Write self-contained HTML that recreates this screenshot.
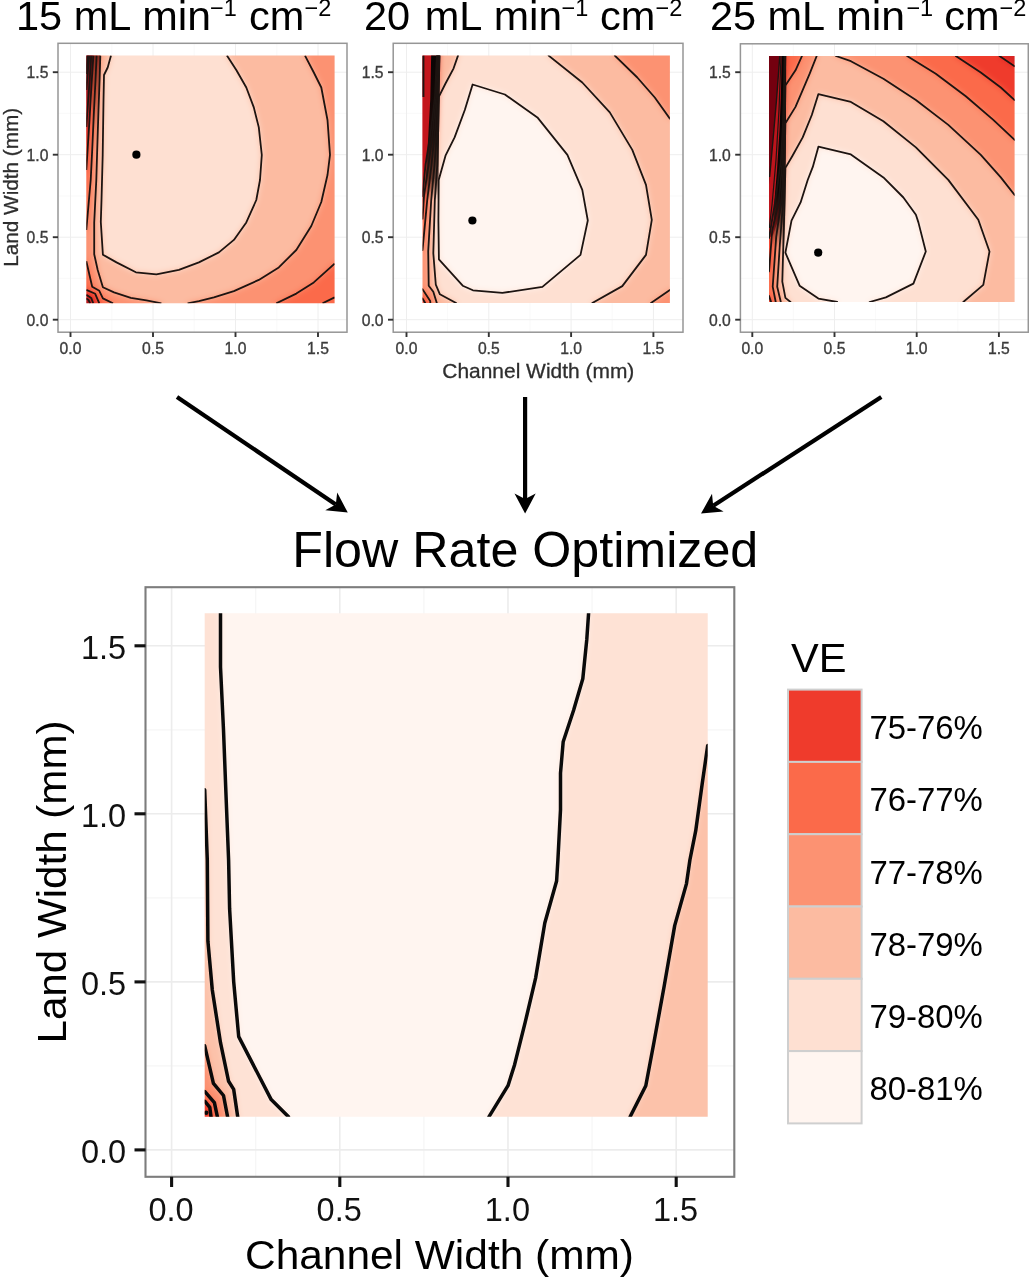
<!DOCTYPE html>
<html lang="en"><head><meta charset="utf-8"><title>Flow Rate Optimized</title>
<style>
html,body{margin:0;padding:0;background:#fff;}
body{width:1029px;height:1280px;overflow:hidden;}
svg{display:block;}
svg text{font-family:"Liberation Sans",Arial,Helvetica,sans-serif;}
</style></head><body>
<svg width="1029" height="1280" viewBox="0 0 1029 1280">
<rect width="1029" height="1280" fill="#ffffff"/>
<defs><filter id="blur" x="-10%" y="-10%" width="120%" height="120%" color-interpolation-filters="sRGB"><feGaussianBlur stdDeviation="3"/></filter></defs>
<rect x="58.0" y="43.3" width="289.0" height="288.9" fill="#fff"/>
<line x1="111.8" x2="111.8" y1="43.3" y2="332.2" stroke="#f7f7f7" stroke-width="0.8"/>
<line x1="58.0" x2="347.0" y1="278.4" y2="278.4" stroke="#f7f7f7" stroke-width="0.8"/>
<line x1="194.2" x2="194.2" y1="43.3" y2="332.2" stroke="#f7f7f7" stroke-width="0.8"/>
<line x1="58.0" x2="347.0" y1="195.9" y2="195.9" stroke="#f7f7f7" stroke-width="0.8"/>
<line x1="276.8" x2="276.8" y1="43.3" y2="332.2" stroke="#f7f7f7" stroke-width="0.8"/>
<line x1="58.0" x2="347.0" y1="113.4" y2="113.4" stroke="#f7f7f7" stroke-width="0.8"/>
<line x1="70.5" x2="70.5" y1="43.3" y2="332.2" stroke="#eeeeee" stroke-width="1"/>
<line x1="58.0" x2="347.0" y1="319.7" y2="319.7" stroke="#eeeeee" stroke-width="1"/>
<line x1="153.0" x2="153.0" y1="43.3" y2="332.2" stroke="#eeeeee" stroke-width="1"/>
<line x1="58.0" x2="347.0" y1="237.2" y2="237.2" stroke="#eeeeee" stroke-width="1"/>
<line x1="235.5" x2="235.5" y1="43.3" y2="332.2" stroke="#eeeeee" stroke-width="1"/>
<line x1="58.0" x2="347.0" y1="154.7" y2="154.7" stroke="#eeeeee" stroke-width="1"/>
<line x1="318.0" x2="318.0" y1="43.3" y2="332.2" stroke="#eeeeee" stroke-width="1"/>
<line x1="58.0" x2="347.0" y1="72.2" y2="72.2" stroke="#eeeeee" stroke-width="1"/>
<clipPath id="c1"><rect x="86.3" y="55.6" width="248.3" height="247.7"/></clipPath>
<g clip-path="url(#c1)"><g filter="url(#blur)">
<rect x="66.3" y="35.6" width="288.3" height="287.7" fill="#5a000c"/>
<polygon points="86.3,74.0 66.3,74.0 66.3,35.6 87.6,35.6 87.6,55.6 87.6,35.6 354.6,35.6 354.6,323.3 86.3,323.3 66.3,323.3 66.3,74.0" fill="#a50f15" />
<polygon points="86.3,90.0 87.8,72.0 89.2,55.6 89.2,35.6 354.6,35.6 354.6,323.3 90.2,323.3 90.2,303.3 88.5,300.0 86.3,298.4 66.3,298.4 66.3,90.0" fill="#cb181d" />
<polygon points="86.3,127.0 88.2,100.0 90.0,75.0 91.2,55.6 91.2,35.6 354.6,35.6 354.6,323.3 93.2,323.3 93.2,303.3 91.2,297.9 86.3,294.8 66.3,294.8 66.3,127.0" fill="#ef3b2c" />
<polygon points="86.3,170.0 87.6,150.0 89.5,120.0 91.5,85.0 93.4,55.6 93.4,35.6 354.6,35.6 354.6,297.4 334.6,297.4 354.6,297.4 354.6,323.3 322.5,323.3 322.5,303.3 322.5,323.3 99.3,323.3 99.3,303.3 95.2,293.8 86.3,289.8 66.3,289.8 66.3,170.0" fill="#fb6a4a" />
<polygon points="86.3,230.0 88.5,205.0 90.7,180.0 92.2,150.0 94.0,110.0 95.5,80.0 96.6,55.6 96.6,35.6 354.6,35.6 354.6,263.6 334.6,263.6 313.8,282.4 296.3,293.6 276.3,303.3 276.3,323.3 113.0,323.3 113.0,303.3 102.9,298.4 99.3,290.8 92.2,286.7 86.3,261.3 66.3,261.3 66.3,230.0" fill="#fc9272" />
<polygon points="305.0,55.6 313.8,72.5 321.3,87.5 327.5,120.0 330.0,154.9 327.5,175.0 321.3,202.0 311.3,226.0 296.3,250.0 278.8,267.4 258.8,279.9 233.9,291.1 213.9,297.4 198.9,301.1 187.6,303.3 187.6,323.3 161.4,323.3 161.4,303.3 146.4,300.4 130.8,297.9 114.0,292.4 102.9,287.2 97.7,270.0 94.2,254.2 94.2,222.7 96.3,180.0 97.2,150.0 98.5,110.0 99.6,80.0 100.3,55.6 100.3,35.6 305.0,35.6" fill="#fcbba1" />
<polygon points="111.0,55.6 107.7,67.5 104.0,75.0 103.5,100.0 102.7,155.0 101.5,200.0 100.8,222.0 102.9,254.7 116.5,262.4 135.9,272.3 156.4,274.3 178.9,269.9 198.9,262.4 218.9,252.4 233.9,239.9 246.3,222.4 256.3,200.0 260.0,180.0 261.8,155.0 258.8,127.4 253.8,107.4 246.3,87.5 236.3,70.0 226.9,55.6 226.9,35.6 111.0,35.6" fill="#fee0d2" />
</g>
<linearGradient id="g1k" x1="0" y1="55" x2="0" y2="175" gradientUnits="userSpaceOnUse"><stop offset="0" stop-color="#5c0a12"/><stop offset="0.3" stop-color="#96121a"/><stop offset="0.6" stop-color="#d22a26"/><stop offset="0.85" stop-color="#ee5236"/><stop offset="1" stop-color="#f5653f" stop-opacity="0"/></linearGradient>
<polygon points="86.3,53.6 93.6,53.6 93.4,55.6 91.5,85.0 89.5,120.0 87.6,150.0 86.3,172.0" fill="url(#g1k)" />
<linearGradient id="g1b" x1="0" y1="55" x2="0" y2="150" gradientUnits="userSpaceOnUse"><stop offset="0" stop-color="#7a2018" stop-opacity="0.9"/><stop offset="0.5" stop-color="#b04028" stop-opacity="0.6"/><stop offset="1" stop-color="#e07050" stop-opacity="0"/></linearGradient>
<polygon points="93.4,53.6 100.6,53.6 99.6,80.0 98.5,110.0 97.6,150.0 92.2,150.0 91.5,85.0" fill="url(#g1b)" />
</g>
<g clip-path="url(#c1)">
<polyline points="86.3,74.0 87.6,55.6" fill="none" stroke="#1d1411" stroke-width="1.8" stroke-linejoin="round" stroke-linecap="butt" />
<polyline points="86.3,90.0 87.8,72.0 89.2,55.6" fill="none" stroke="#1d1411" stroke-width="1.8" stroke-linejoin="round" stroke-linecap="butt" />
<polyline points="86.3,298.4 88.5,300.0 90.2,303.3" fill="none" stroke="#1d1411" stroke-width="1.8" stroke-linejoin="round" stroke-linecap="butt" />
<polyline points="86.3,127.0 88.2,100.0 90.0,75.0 91.2,55.6" fill="none" stroke="#1d1411" stroke-width="1.8" stroke-linejoin="round" stroke-linecap="butt" />
<polyline points="86.3,294.8 91.2,297.9 93.2,303.3" fill="none" stroke="#1d1411" stroke-width="1.8" stroke-linejoin="round" stroke-linecap="butt" />
<polyline points="86.3,170.0 87.6,150.0 89.5,120.0 91.5,85.0 93.4,55.6" fill="none" stroke="#1d1411" stroke-width="1.8" stroke-linejoin="round" stroke-linecap="butt" />
<polyline points="86.3,289.8 95.2,293.8 99.3,303.3" fill="none" stroke="#1d1411" stroke-width="1.8" stroke-linejoin="round" stroke-linecap="butt" />
<polyline points="322.5,303.3 334.6,297.4" fill="none" stroke="#1d1411" stroke-width="1.8" stroke-linejoin="round" stroke-linecap="butt" />
<polyline points="86.3,230.0 88.5,205.0 90.7,180.0 92.2,150.0 94.0,110.0 95.5,80.0 96.6,55.6" fill="none" stroke="#1d1411" stroke-width="1.8" stroke-linejoin="round" stroke-linecap="butt" />
<polyline points="86.3,261.3 92.2,286.7 99.3,290.8 102.9,298.4 113.0,303.3" fill="none" stroke="#1d1411" stroke-width="1.8" stroke-linejoin="round" stroke-linecap="butt" />
<polyline points="276.3,303.3 296.3,293.6 313.8,282.4 334.6,263.6" fill="none" stroke="#1d1411" stroke-width="1.8" stroke-linejoin="round" stroke-linecap="butt" />
<polyline points="305.0,55.6 313.8,72.5 321.3,87.5 327.5,120.0 330.0,154.9 327.5,175.0 321.3,202.0 311.3,226.0 296.3,250.0 278.8,267.4 258.8,279.9 233.9,291.1 213.9,297.4 198.9,301.1 187.6,303.3" fill="none" stroke="#1d1411" stroke-width="1.8" stroke-linejoin="round" stroke-linecap="butt" />
<polyline points="161.4,303.3 146.4,300.4 130.8,297.9 114.0,292.4 102.9,287.2 97.7,270.0 94.2,254.2 94.2,222.7 96.3,180.0 97.2,150.0 98.5,110.0 99.6,80.0 100.3,55.6" fill="none" stroke="#1d1411" stroke-width="1.8" stroke-linejoin="round" stroke-linecap="butt" />
<polyline points="111.0,55.6 107.7,67.5 104.0,75.0 103.5,100.0 102.7,155.0 101.5,200.0 100.8,222.0 102.9,254.7 116.5,262.4 135.9,272.3 156.4,274.3 178.9,269.9 198.9,262.4 218.9,252.4 233.9,239.9 246.3,222.4 256.3,200.0 260.0,180.0 261.8,155.0 258.8,127.4 253.8,107.4 246.3,87.5 236.3,70.0 226.9,55.6" fill="none" stroke="#1d1411" stroke-width="1.8" stroke-linejoin="round" stroke-linecap="butt" />
</g>
<circle cx="136.4" cy="154.7" r="4.1" fill="#000"/>
<rect x="58.0" y="43.3" width="289.0" height="288.9" fill="none" stroke="#969696" stroke-width="1.5"/>
<line x1="70.5" x2="70.5" y1="332.2" y2="337.0" stroke="#333" stroke-width="1.9"/>
<line x1="52.8" x2="58.0" y1="319.7" y2="319.7" stroke="#333" stroke-width="1.9"/>
<text x="70.5" y="354.0" font-size="15.7" fill="#3c3c3c" text-anchor="middle" stroke="#3c3c3c" stroke-width="0.35">0.0</text>
<text x="48.4" y="325.6" font-size="15.7" fill="#3c3c3c" text-anchor="end" stroke="#3c3c3c" stroke-width="0.35">0.0</text>
<line x1="153.0" x2="153.0" y1="332.2" y2="337.0" stroke="#333" stroke-width="1.9"/>
<line x1="52.8" x2="58.0" y1="237.2" y2="237.2" stroke="#333" stroke-width="1.9"/>
<text x="153.0" y="354.0" font-size="15.7" fill="#3c3c3c" text-anchor="middle" stroke="#3c3c3c" stroke-width="0.35">0.5</text>
<text x="48.4" y="243.1" font-size="15.7" fill="#3c3c3c" text-anchor="end" stroke="#3c3c3c" stroke-width="0.35">0.5</text>
<line x1="235.5" x2="235.5" y1="332.2" y2="337.0" stroke="#333" stroke-width="1.9"/>
<line x1="52.8" x2="58.0" y1="154.7" y2="154.7" stroke="#333" stroke-width="1.9"/>
<text x="235.5" y="354.0" font-size="15.7" fill="#3c3c3c" text-anchor="middle" stroke="#3c3c3c" stroke-width="0.35">1.0</text>
<text x="48.4" y="160.6" font-size="15.7" fill="#3c3c3c" text-anchor="end" stroke="#3c3c3c" stroke-width="0.35">1.0</text>
<line x1="318.0" x2="318.0" y1="332.2" y2="337.0" stroke="#333" stroke-width="1.9"/>
<line x1="52.8" x2="58.0" y1="72.2" y2="72.2" stroke="#333" stroke-width="1.9"/>
<text x="318.0" y="354.0" font-size="15.7" fill="#3c3c3c" text-anchor="middle" stroke="#3c3c3c" stroke-width="0.35">1.5</text>
<text x="48.4" y="78.1" font-size="15.7" fill="#3c3c3c" text-anchor="end" stroke="#3c3c3c" stroke-width="0.35">1.5</text>
<text transform="translate(17.8,187.3) rotate(-90)" text-anchor="middle" font-size="20.3" fill="#2e2e2e" stroke="#2e2e2e" stroke-width="0.3" textLength="159" lengthAdjust="spacingAndGlyphs">Land Width (mm)</text>
<rect x="393.2" y="43.3" width="289.8" height="288.9" fill="#fff"/>
<line x1="447.6" x2="447.6" y1="43.3" y2="332.2" stroke="#f7f7f7" stroke-width="0.8"/>
<line x1="393.2" x2="683.0" y1="278.4" y2="278.4" stroke="#f7f7f7" stroke-width="0.8"/>
<line x1="530.0" x2="530.0" y1="43.3" y2="332.2" stroke="#f7f7f7" stroke-width="0.8"/>
<line x1="393.2" x2="683.0" y1="195.9" y2="195.9" stroke="#f7f7f7" stroke-width="0.8"/>
<line x1="612.2" x2="612.2" y1="43.3" y2="332.2" stroke="#f7f7f7" stroke-width="0.8"/>
<line x1="393.2" x2="683.0" y1="113.4" y2="113.4" stroke="#f7f7f7" stroke-width="0.8"/>
<line x1="406.5" x2="406.5" y1="43.3" y2="332.2" stroke="#eeeeee" stroke-width="1"/>
<line x1="393.2" x2="683.0" y1="319.7" y2="319.7" stroke="#eeeeee" stroke-width="1"/>
<line x1="488.8" x2="488.8" y1="43.3" y2="332.2" stroke="#eeeeee" stroke-width="1"/>
<line x1="393.2" x2="683.0" y1="237.2" y2="237.2" stroke="#eeeeee" stroke-width="1"/>
<line x1="571.1" x2="571.1" y1="43.3" y2="332.2" stroke="#eeeeee" stroke-width="1"/>
<line x1="393.2" x2="683.0" y1="154.7" y2="154.7" stroke="#eeeeee" stroke-width="1"/>
<line x1="653.4" x2="653.4" y1="43.3" y2="332.2" stroke="#eeeeee" stroke-width="1"/>
<line x1="393.2" x2="683.0" y1="72.2" y2="72.2" stroke="#eeeeee" stroke-width="1"/>
<clipPath id="c2"><rect x="422.5" y="55.6" width="247.4" height="247.4"/></clipPath>
<g clip-path="url(#c2)"><g filter="url(#blur)">
<rect x="402.5" y="35.6" width="287.4" height="287.4" fill="#cb181d"/>
<polygon points="436.9,35.6 436.9,55.6 435.0,96.0 431.0,130.0 425.5,165.0 422.5,196.0 402.5,196.0 402.5,323.0 689.9,323.0 689.9,35.6" fill="#ef3b2c" />
<polygon points="437.8,35.6 437.8,55.6 436.2,96.0 433.0,130.0 428.5,165.0 424.1,195.0 422.5,218.6 402.5,218.6 402.5,298.5 422.5,298.5 425.2,303.0 425.2,323.0 689.9,323.0 689.9,35.6" fill="#fb6a4a" />
<polygon points="438.7,35.6 438.7,55.6 437.4,96.0 435.0,130.0 431.5,165.0 427.2,200.3 422.5,250.1 402.5,250.1 402.5,289.2 422.5,289.2 430.2,301.0 431.5,323.0 689.9,323.0 689.9,35.6" fill="#fc9272" />
<polygon points="436.8,323.0 436.8,303.0 433.3,291.8 428.7,285.7 428.2,251.1 431.2,200.3 434.5,165.0 437.0,130.0 438.5,96.0 439.6,55.6 439.6,35.6 614.8,35.6 614.8,55.6 637.3,77.5 654.8,97.5 669.9,118.7 689.9,118.7 689.9,289.9 669.9,289.9 651.0,303.0 651.0,323.0" fill="#fcbba1" />
<polygon points="458.0,35.6 458.0,55.6 453.6,68.3 445.5,83.5 438.9,96.7 438.2,130.0 437.3,165.0 434.8,200.3 433.3,253.2 435.8,284.7 439.9,294.3 456.1,303.0 456.1,323.0 592.3,323.0 592.3,303.0 622.3,286.1 646.0,254.9 651.8,219.9 646.0,184.9 632.3,149.9 609.8,112.4 582.3,82.5 548.6,55.6 548.6,35.6" fill="#fee0d2" />
<polygon points="438.7,180.0 445.5,155.7 454.6,137.4 464.8,110.0 472.6,84.5 504.9,94.5 537.4,117.4 567.4,154.9 582.3,189.9 587.8,220.5 580.5,254.9 542.4,286.9 502.4,292.9 472.9,290.3 462.7,285.7 438.9,259.3 438.4,220.7" fill="#fff5f0" />
</g>
<linearGradient id="g2k" x1="0" y1="55" x2="0" y2="200" gradientUnits="userSpaceOnUse"><stop offset="0" stop-color="#0a0505" stop-opacity="1"/><stop offset="0.55" stop-color="#120806" stop-opacity="0.95"/><stop offset="0.85" stop-color="#2a130c" stop-opacity="0.7"/><stop offset="1" stop-color="#3a1a10" stop-opacity="0"/></linearGradient>
<polygon points="422.5,55.6 431.5,55.6 430.5,100.0 427.5,150.0 424.5,185.0 422.5,205.0" fill="#c4161c" />
<polygon points="431.2,53.6 440.2,53.6 439.5,96.0 438.8,150.0 438.6,200.0 424.0,200.0 427.5,150.0 430.2,100.0" fill="url(#g2k)" />
</g>
<g clip-path="url(#c2)">
<polyline points="423.2,55.6 423.2,97.0" fill="none" stroke="#1d1411" stroke-width="2.4" stroke-linejoin="round" stroke-linecap="butt" />
<polyline points="402.5,196.0 422.5,196.0 425.5,165.0 431.0,130.0 435.0,96.0 436.9,55.6 436.9,35.6" fill="none" stroke="#1d1411" stroke-width="1.8" stroke-linejoin="round" stroke-linecap="butt" />
<polyline points="402.5,218.6 422.5,218.6 424.1,195.0 428.5,165.0 433.0,130.0 436.2,96.0 437.8,55.6 437.8,35.6" fill="none" stroke="#1d1411" stroke-width="1.8" stroke-linejoin="round" stroke-linecap="butt" />
<polyline points="402.5,298.5 422.5,298.5 425.2,303.0 425.2,323.0" fill="none" stroke="#1d1411" stroke-width="1.8" stroke-linejoin="round" stroke-linecap="butt" />
<polyline points="402.5,250.1 422.5,250.1 427.2,200.3 431.5,165.0 435.0,130.0 437.4,96.0 438.7,55.6 438.7,35.6" fill="none" stroke="#1d1411" stroke-width="1.8" stroke-linejoin="round" stroke-linecap="butt" />
<polyline points="402.5,289.2 422.5,289.2 430.2,301.0 431.5,323.0" fill="none" stroke="#1d1411" stroke-width="1.8" stroke-linejoin="round" stroke-linecap="butt" />
<polyline points="436.8,323.0 436.8,303.0 433.3,291.8 428.7,285.7 428.2,251.1 431.2,200.3 434.5,165.0 437.0,130.0 438.5,96.0 439.6,55.6 439.6,35.6" fill="none" stroke="#1d1411" stroke-width="1.8" stroke-linejoin="round" stroke-linecap="butt" />
<polyline points="614.8,35.6 614.8,55.6 637.3,77.5 654.8,97.5 669.9,118.7 689.9,118.7" fill="none" stroke="#1d1411" stroke-width="1.8" stroke-linejoin="round" stroke-linecap="butt" />
<polyline points="689.9,289.9 669.9,289.9 651.0,303.0 651.0,323.0" fill="none" stroke="#1d1411" stroke-width="1.8" stroke-linejoin="round" stroke-linecap="butt" />
<polyline points="458.0,35.6 458.0,55.6 453.6,68.3 445.5,83.5 438.9,96.7 438.2,130.0 437.3,165.0 434.8,200.3 433.3,253.2 435.8,284.7 439.9,294.3 456.1,303.0 456.1,323.0 592.3,323.0 592.3,303.0 622.3,286.1 646.0,254.9 651.8,219.9 646.0,184.9 632.3,149.9 609.8,112.4 582.3,82.5 548.6,55.6 548.6,35.6" fill="none" stroke="#1d1411" stroke-width="1.8" stroke-linejoin="round" stroke-linecap="butt" />
<polyline points="438.7,180.0 445.5,155.7 454.6,137.4 464.8,110.0 472.6,84.5 504.9,94.5 537.4,117.4 567.4,154.9 582.3,189.9 587.8,220.5 580.5,254.9 542.4,286.9 502.4,292.9 472.9,290.3 462.7,285.7 438.9,259.3 438.4,220.7 438.7,180.0" fill="none" stroke="#1d1411" stroke-width="1.8" stroke-linejoin="round" stroke-linecap="butt" />
</g>
<circle cx="472.4" cy="220.5" r="4.1" fill="#000"/>
<rect x="393.2" y="43.3" width="289.8" height="288.9" fill="none" stroke="#969696" stroke-width="1.5"/>
<line x1="406.5" x2="406.5" y1="332.2" y2="337.0" stroke="#333" stroke-width="1.9"/>
<line x1="388.0" x2="393.2" y1="319.7" y2="319.7" stroke="#333" stroke-width="1.9"/>
<text x="406.5" y="354.0" font-size="15.7" fill="#3c3c3c" text-anchor="middle" stroke="#3c3c3c" stroke-width="0.35">0.0</text>
<text x="383.6" y="325.6" font-size="15.7" fill="#3c3c3c" text-anchor="end" stroke="#3c3c3c" stroke-width="0.35">0.0</text>
<line x1="488.8" x2="488.8" y1="332.2" y2="337.0" stroke="#333" stroke-width="1.9"/>
<line x1="388.0" x2="393.2" y1="237.2" y2="237.2" stroke="#333" stroke-width="1.9"/>
<text x="488.8" y="354.0" font-size="15.7" fill="#3c3c3c" text-anchor="middle" stroke="#3c3c3c" stroke-width="0.35">0.5</text>
<text x="383.6" y="243.1" font-size="15.7" fill="#3c3c3c" text-anchor="end" stroke="#3c3c3c" stroke-width="0.35">0.5</text>
<line x1="571.1" x2="571.1" y1="332.2" y2="337.0" stroke="#333" stroke-width="1.9"/>
<line x1="388.0" x2="393.2" y1="154.7" y2="154.7" stroke="#333" stroke-width="1.9"/>
<text x="571.1" y="354.0" font-size="15.7" fill="#3c3c3c" text-anchor="middle" stroke="#3c3c3c" stroke-width="0.35">1.0</text>
<text x="383.6" y="160.6" font-size="15.7" fill="#3c3c3c" text-anchor="end" stroke="#3c3c3c" stroke-width="0.35">1.0</text>
<line x1="653.4" x2="653.4" y1="332.2" y2="337.0" stroke="#333" stroke-width="1.9"/>
<line x1="388.0" x2="393.2" y1="72.2" y2="72.2" stroke="#333" stroke-width="1.9"/>
<text x="653.4" y="354.0" font-size="15.7" fill="#3c3c3c" text-anchor="middle" stroke="#3c3c3c" stroke-width="0.35">1.5</text>
<text x="383.6" y="78.1" font-size="15.7" fill="#3c3c3c" text-anchor="end" stroke="#3c3c3c" stroke-width="0.35">1.5</text>
<text x="538.3" y="377.6" font-size="20.6" fill="#2e2e2e" text-anchor="middle" textLength="192.0" lengthAdjust="spacingAndGlyphs" stroke="#2e2e2e" stroke-width="0.3">Channel Width (mm)</text>
<rect x="740.4" y="43.3" width="287.9" height="288.9" fill="#fff"/>
<line x1="793.4" x2="793.4" y1="43.3" y2="332.2" stroke="#f7f7f7" stroke-width="0.8"/>
<line x1="740.4" x2="1028.3" y1="278.4" y2="278.4" stroke="#f7f7f7" stroke-width="0.8"/>
<line x1="875.6" x2="875.6" y1="43.3" y2="332.2" stroke="#f7f7f7" stroke-width="0.8"/>
<line x1="740.4" x2="1028.3" y1="195.9" y2="195.9" stroke="#f7f7f7" stroke-width="0.8"/>
<line x1="957.8" x2="957.8" y1="43.3" y2="332.2" stroke="#f7f7f7" stroke-width="0.8"/>
<line x1="740.4" x2="1028.3" y1="113.4" y2="113.4" stroke="#f7f7f7" stroke-width="0.8"/>
<line x1="752.3" x2="752.3" y1="43.3" y2="332.2" stroke="#eeeeee" stroke-width="1"/>
<line x1="740.4" x2="1028.3" y1="319.7" y2="319.7" stroke="#eeeeee" stroke-width="1"/>
<line x1="834.5" x2="834.5" y1="43.3" y2="332.2" stroke="#eeeeee" stroke-width="1"/>
<line x1="740.4" x2="1028.3" y1="237.2" y2="237.2" stroke="#eeeeee" stroke-width="1"/>
<line x1="916.7" x2="916.7" y1="43.3" y2="332.2" stroke="#eeeeee" stroke-width="1"/>
<line x1="740.4" x2="1028.3" y1="154.7" y2="154.7" stroke="#eeeeee" stroke-width="1"/>
<line x1="998.9" x2="998.9" y1="43.3" y2="332.2" stroke="#eeeeee" stroke-width="1"/>
<line x1="740.4" x2="1028.3" y1="72.2" y2="72.2" stroke="#eeeeee" stroke-width="1"/>
<clipPath id="c3"><rect x="769.0" y="56.0" width="245.6" height="246.0"/></clipPath>
<g clip-path="url(#c3)"><g filter="url(#blur)">
<rect x="749.0" y="36.0" width="285.6" height="286.0" fill="#d92523"/>
<polygon points="784.6,36.0 784.6,56.0 784.0,85.0 783.0,123.0 781.0,160.0 775.5,200.0 769.0,238.0 749.0,238.0 749.0,322.0 1034.6,322.0 1034.6,69.0 1014.6,66.2 999.5,56.0 999.5,36.0" fill="#ef3b2c" />
<polygon points="785.3,36.0 785.3,56.0 784.8,85.0 784.0,123.0 782.5,160.0 779.0,200.0 772.2,230.8 769.0,271.5 749.0,271.5 749.0,295.9 769.0,295.9 771.1,302.0 771.1,322.0 1034.6,322.0 1034.6,104.0 1014.6,100.0 1000.8,87.5 980.8,72.5 955.8,56.0 955.8,36.0" fill="#fb6a4a" />
<polygon points="775.7,322.0 775.7,302.0 772.7,286.7 776.2,236.9 781.5,200.0 783.8,160.0 784.8,123.0 785.4,85.6 795.5,70.3 802.0,56.0 802.0,36.0 907.1,36.0 907.1,56.0 935.8,73.7 965.8,96.2 993.3,119.9 1014.6,139.9 1034.6,144.0 1034.6,322.0" fill="#fc9272" />
<polygon points="780.8,322.0 780.8,302.0 777.2,286.7 779.8,245.0 783.2,200.0 784.6,160.0 785.4,123.2 795.5,106.9 801.6,92.7 809.8,73.4 816.7,56.0 816.7,36.0 835.9,36.0 835.9,56.0 850.9,61.2 883.4,78.7 915.9,100.0 948.3,124.9 980.8,154.9 1000.8,177.4 1014.6,194.9 1034.6,201.0 1034.6,322.0" fill="#fcbba1" />
<polygon points="790.5,322.0 790.5,302.0 785.4,297.9 782.3,281.6 783.3,246.0 784.6,200.0 785.4,167.9 792.5,155.7 802.7,137.4 811.8,115.0 818.4,94.1 850.9,101.9 883.4,121.2 915.9,147.4 948.3,179.9 978.3,219.8 989.5,251.5 983.3,284.9 963.3,302.0 963.3,322.0" fill="#fee0d2" />
<polygon points="837.2,322.0 837.2,302.0 818.4,298.6 799.6,285.7 785.4,252.7 791.5,220.7 800.6,202.4 807.7,180.0 812.8,166.9 818.4,146.7 850.9,154.4 883.4,177.4 903.4,197.5 915.9,214.8 918.4,222.4 925.8,251.5 913.4,283.6 885.9,297.4 869.6,302.0 869.6,322.0" fill="#fff5f0" />
</g>
<polygon points="769.0,54.0 785.0,54.0 785.0,180.0 780.0,215.0 773.0,235.0 769.0,238.0" fill="#bd141c" />
<polygon points="769.0,54.0 780.0,54.0 779.8,56.0 776.5,100.0 773.0,140.0 769.6,177.0 769.0,185.0" fill="#74000f" />
<linearGradient id="g3k" x1="0" y1="56" x2="0" y2="262" gradientUnits="userSpaceOnUse"><stop offset="0" stop-color="#070303" stop-opacity="1"/><stop offset="0.66" stop-color="#0c0504" stop-opacity="1"/><stop offset="0.8" stop-color="#2a120c" stop-opacity="0.7"/><stop offset="0.93" stop-color="#3a1a10" stop-opacity="0"/></linearGradient>
<polygon points="781.6,54.0 786.2,54.0 786.0,120.0 785.6,170.0 785.2,215.0 784.5,262.0 771.0,262.0 773.5,225.0 774.5,200.0 777.0,170.0 779.5,130.0 781.0,90.0" fill="url(#g3k)" />
</g>
<g clip-path="url(#c3)">
<polyline points="779.8,56.0 776.5,100.0 773.0,140.0 769.6,177.0" fill="none" stroke="#1d1411" stroke-width="1.4" stroke-linejoin="round" stroke-linecap="butt" />
<polyline points="781.0,56.0 779.0,110.0 776.0,160.0 772.0,205.0 769.3,228.0" fill="none" stroke="#1d1411" stroke-width="1.2" stroke-linejoin="round" stroke-linecap="butt" />
<polyline points="749.0,238.0 769.0,238.0 775.5,200.0 781.0,160.0 783.0,123.0 784.0,85.0 784.6,56.0 784.6,36.0" fill="none" stroke="#1d1411" stroke-width="1.8" stroke-linejoin="round" stroke-linecap="butt" />
<polyline points="999.5,36.0 999.5,56.0 1014.6,66.2 1034.6,69.0" fill="none" stroke="#1d1411" stroke-width="1.8" stroke-linejoin="round" stroke-linecap="butt" />
<polyline points="749.0,271.5 769.0,271.5 772.2,230.8 779.0,200.0 782.5,160.0 784.0,123.0 784.8,85.0 785.3,56.0 785.3,36.0" fill="none" stroke="#1d1411" stroke-width="1.8" stroke-linejoin="round" stroke-linecap="butt" />
<polyline points="749.0,295.9 769.0,295.9 771.1,302.0 771.1,322.0" fill="none" stroke="#1d1411" stroke-width="1.8" stroke-linejoin="round" stroke-linecap="butt" />
<polyline points="955.8,36.0 955.8,56.0 980.8,72.5 1000.8,87.5 1014.6,100.0 1034.6,104.0" fill="none" stroke="#1d1411" stroke-width="1.8" stroke-linejoin="round" stroke-linecap="butt" />
<polyline points="775.7,322.0 775.7,302.0 772.7,286.7 776.2,236.9 781.5,200.0 783.8,160.0 784.8,123.0 785.4,85.6 795.5,70.3 802.0,56.0 802.0,36.0" fill="none" stroke="#1d1411" stroke-width="1.8" stroke-linejoin="round" stroke-linecap="butt" />
<polyline points="907.1,36.0 907.1,56.0 935.8,73.7 965.8,96.2 993.3,119.9 1014.6,139.9 1034.6,144.0" fill="none" stroke="#1d1411" stroke-width="1.8" stroke-linejoin="round" stroke-linecap="butt" />
<polyline points="780.8,322.0 780.8,302.0 777.2,286.7 779.8,245.0 783.2,200.0 784.6,160.0 785.4,123.2 795.5,106.9 801.6,92.7 809.8,73.4 816.7,56.0 816.7,36.0" fill="none" stroke="#1d1411" stroke-width="1.8" stroke-linejoin="round" stroke-linecap="butt" />
<polyline points="835.9,36.0 835.9,56.0 850.9,61.2 883.4,78.7 915.9,100.0 948.3,124.9 980.8,154.9 1000.8,177.4 1014.6,194.9 1034.6,201.0" fill="none" stroke="#1d1411" stroke-width="1.8" stroke-linejoin="round" stroke-linecap="butt" />
<polyline points="790.5,322.0 790.5,302.0 785.4,297.9 782.3,281.6 783.3,246.0 784.6,200.0 785.4,167.9 792.5,155.7 802.7,137.4 811.8,115.0 818.4,94.1 850.9,101.9 883.4,121.2 915.9,147.4 948.3,179.9 978.3,219.8 989.5,251.5 983.3,284.9 963.3,302.0 963.3,322.0" fill="none" stroke="#1d1411" stroke-width="1.8" stroke-linejoin="round" stroke-linecap="butt" />
<polyline points="837.2,322.0 837.2,302.0 818.4,298.6 799.6,285.7 785.4,252.7 791.5,220.7 800.6,202.4 807.7,180.0 812.8,166.9 818.4,146.7 850.9,154.4 883.4,177.4 903.4,197.5 915.9,214.8 918.4,222.4 925.8,251.5 913.4,283.6 885.9,297.4 869.6,302.0 869.6,322.0" fill="none" stroke="#1d1411" stroke-width="1.8" stroke-linejoin="round" stroke-linecap="butt" />
</g>
<circle cx="818.2" cy="252.6" r="4.1" fill="#000"/>
<rect x="740.4" y="43.8" width="287.9" height="288.4" fill="none" stroke="#969696" stroke-width="1.5"/>
<line x1="752.3" x2="752.3" y1="332.2" y2="337.0" stroke="#333" stroke-width="1.9"/>
<line x1="735.2" x2="740.4" y1="319.7" y2="319.7" stroke="#333" stroke-width="1.9"/>
<text x="752.3" y="354.0" font-size="15.7" fill="#3c3c3c" text-anchor="middle" stroke="#3c3c3c" stroke-width="0.35">0.0</text>
<text x="730.8" y="325.6" font-size="15.7" fill="#3c3c3c" text-anchor="end" stroke="#3c3c3c" stroke-width="0.35">0.0</text>
<line x1="834.5" x2="834.5" y1="332.2" y2="337.0" stroke="#333" stroke-width="1.9"/>
<line x1="735.2" x2="740.4" y1="237.2" y2="237.2" stroke="#333" stroke-width="1.9"/>
<text x="834.5" y="354.0" font-size="15.7" fill="#3c3c3c" text-anchor="middle" stroke="#3c3c3c" stroke-width="0.35">0.5</text>
<text x="730.8" y="243.1" font-size="15.7" fill="#3c3c3c" text-anchor="end" stroke="#3c3c3c" stroke-width="0.35">0.5</text>
<line x1="916.7" x2="916.7" y1="332.2" y2="337.0" stroke="#333" stroke-width="1.9"/>
<line x1="735.2" x2="740.4" y1="154.7" y2="154.7" stroke="#333" stroke-width="1.9"/>
<text x="916.7" y="354.0" font-size="15.7" fill="#3c3c3c" text-anchor="middle" stroke="#3c3c3c" stroke-width="0.35">1.0</text>
<text x="730.8" y="160.6" font-size="15.7" fill="#3c3c3c" text-anchor="end" stroke="#3c3c3c" stroke-width="0.35">1.0</text>
<line x1="998.9" x2="998.9" y1="332.2" y2="337.0" stroke="#333" stroke-width="1.9"/>
<line x1="735.2" x2="740.4" y1="72.2" y2="72.2" stroke="#333" stroke-width="1.9"/>
<text x="998.9" y="354.0" font-size="15.7" fill="#3c3c3c" text-anchor="middle" stroke="#3c3c3c" stroke-width="0.35">1.5</text>
<text x="730.8" y="78.1" font-size="15.7" fill="#3c3c3c" text-anchor="end" stroke="#3c3c3c" stroke-width="0.35">1.5</text>
<text font-size="41.5" fill="#000" y="29.9"><tspan x="16.0">15 </tspan><tspan x="73.7">mL </tspan><tspan x="142.2" textLength="68.9" lengthAdjust="spacingAndGlyphs">min</tspan><tspan x="210.1" y="15.5" font-size="23.5">−1</tspan><tspan x="237.5" y="29.9"> cm</tspan><tspan x="304.6" y="15.5" font-size="23.5">−2</tspan></text>
<text font-size="41.5" fill="#000" y="29.9"><tspan x="364.0">20 </tspan><tspan x="424.7">mL </tspan><tspan x="493.7" textLength="68.4" lengthAdjust="spacingAndGlyphs">min</tspan><tspan x="561.6" y="15.5" font-size="23.5">−1</tspan><tspan x="588.5" y="29.9"> cm</tspan><tspan x="655.6" y="15.5" font-size="23.5">−2</tspan></text>
<text font-size="41.5" fill="#000" y="29.9"><tspan x="710.0">25 </tspan><tspan x="767.4">mL </tspan><tspan x="836.2" textLength="68.9" lengthAdjust="spacingAndGlyphs">min</tspan><tspan x="906.4" y="15.5" font-size="23.5">−1</tspan><tspan x="932.7" y="29.9"> cm</tspan><tspan x="999.6" y="15.5" font-size="23.5">−2</tspan></text>
<line x1="177.0" y1="397.0" x2="335.8" y2="504.5" stroke="#000" stroke-width="4.2"/>
<polygon points="347.8,512.6 325.3,510.2 335.8,504.5 337.2,492.6" fill="#000" />
<line x1="525.1" y1="397.0" x2="525.1" y2="499.1" stroke="#000" stroke-width="4.2"/>
<polygon points="525.1,513.6 514.5,493.6 525.1,499.1 535.7,493.6" fill="#000" />
<line x1="881.3" y1="397.0" x2="713.2" y2="505.7" stroke="#000" stroke-width="4.2"/>
<polygon points="701.0,513.6 712.0,493.8 713.2,505.7 723.6,511.6" fill="#000" />
<text x="525.3" y="567.3" font-size="49.3" fill="#000" text-anchor="middle" textLength="466.0" lengthAdjust="spacingAndGlyphs" >Flow Rate Optimized</text>
<rect x="145.5" y="587.2" width="588.8" height="589.6" fill="#fff"/>
<line x1="255.7" x2="255.7" y1="587.2" y2="1176.8" stroke="#f6f6f6" stroke-width="1.2"/>
<line x1="145.5" x2="734.3" y1="1065.9" y2="1065.9" stroke="#f6f6f6" stroke-width="1.2"/>
<line x1="423.9" x2="423.9" y1="587.2" y2="1176.8" stroke="#f6f6f6" stroke-width="1.2"/>
<line x1="145.5" x2="734.3" y1="897.8" y2="897.8" stroke="#f6f6f6" stroke-width="1.2"/>
<line x1="592.1" x2="592.1" y1="587.2" y2="1176.8" stroke="#f6f6f6" stroke-width="1.2"/>
<line x1="145.5" x2="734.3" y1="729.8" y2="729.8" stroke="#f6f6f6" stroke-width="1.2"/>
<line x1="171.6" x2="171.6" y1="587.2" y2="1176.8" stroke="#ececec" stroke-width="1.6"/>
<line x1="145.5" x2="734.3" y1="1149.9" y2="1149.9" stroke="#ececec" stroke-width="1.6"/>
<line x1="339.8" x2="339.8" y1="587.2" y2="1176.8" stroke="#ececec" stroke-width="1.6"/>
<line x1="145.5" x2="734.3" y1="981.9" y2="981.9" stroke="#ececec" stroke-width="1.6"/>
<line x1="508.0" x2="508.0" y1="587.2" y2="1176.8" stroke="#ececec" stroke-width="1.6"/>
<line x1="145.5" x2="734.3" y1="813.8" y2="813.8" stroke="#ececec" stroke-width="1.6"/>
<line x1="676.2" x2="676.2" y1="587.2" y2="1176.8" stroke="#ececec" stroke-width="1.6"/>
<line x1="145.5" x2="734.3" y1="645.8" y2="645.8" stroke="#ececec" stroke-width="1.6"/>
<clipPath id="c4"><rect x="204.7" y="613.2" width="503.0" height="503.6"/></clipPath>
<g clip-path="url(#c4)"><g filter="url(#blur)">
<rect x="184.7" y="593.2" width="543.0" height="543.6" fill="#fcc2aa"/>
<polygon points="184.7,1045.8 204.7,1045.8 213.4,1083.4 223.5,1095.5 227.6,1116.8 227.6,1136.8 184.7,1136.8" fill="#fc9272" />
<polygon points="184.7,1091.5 204.7,1091.5 214.4,1102.6 217.4,1116.8 217.4,1136.8 184.7,1136.8" fill="#fb6a4a" />
<polygon points="184.7,1101.2 204.7,1101.2 209.8,1107.4 211.0,1116.8 211.0,1136.8 184.7,1136.8" fill="#ef3b2c" />
<polygon points="184.7,789.8 204.7,789.8 207.3,860.0 207.9,941.2 212.3,990.0 220.5,1042.7 228.6,1081.3 233.7,1089.4 237.7,1116.8 237.7,1136.8 630.1,1136.8 630.1,1116.8 645.8,1085.7 653.7,1043.7 664.2,986.0 674.7,925.6 686.5,883.6 689.9,860.0 695.7,830.9 702.2,783.7 707.7,745.6 727.7,745.6 727.7,593.2 184.7,593.2" fill="#fee2d5" />
<polygon points="220.5,593.2 220.5,613.2 220.5,667.0 223.5,730.0 226.0,795.0 228.6,860.0 229.6,908.7 233.7,981.8 238.7,1036.6 271.2,1099.6 288.5,1116.8 288.5,1136.8 488.9,1136.8 488.9,1116.8 508.0,1085.7 514.6,1064.7 525.1,1022.7 535.6,978.1 544.8,923.0 556.6,881.0 557.9,860.0 560.5,809.9 560.5,773.2 563.2,741.7 573.6,710.2 582.8,678.7 586.8,639.4 588.6,613.2 588.6,593.2" fill="#fff5f0" />
</g></g>
<g clip-path="url(#c4)">
<polyline points="220.5,593.2 220.5,613.2 220.5,667.0 223.5,730.0 226.0,795.0 228.6,860.0 229.6,908.7 233.7,981.8 238.7,1036.6 271.2,1099.6 288.5,1116.8 288.5,1136.8" fill="none" stroke="#0a0a0a" stroke-width="3.5" stroke-linejoin="round" stroke-linecap="butt" />
<polyline points="488.9,1136.8 488.9,1116.8 508.0,1085.7 514.6,1064.7 525.1,1022.7 535.6,978.1 544.8,923.0 556.6,881.0 557.9,860.0 560.5,809.9 560.5,773.2 563.2,741.7 573.6,710.2 582.8,678.7 586.8,639.4 588.6,613.2 588.6,593.2" fill="none" stroke="#0a0a0a" stroke-width="3.5" stroke-linejoin="round" stroke-linecap="butt" />
<polyline points="184.7,789.8 204.7,789.8 207.3,860.0 207.9,941.2 212.3,990.0 220.5,1042.7 228.6,1081.3 233.7,1089.4 237.7,1116.8 237.7,1136.8" fill="none" stroke="#0a0a0a" stroke-width="3.5" stroke-linejoin="round" stroke-linecap="butt" />
<polyline points="630.1,1136.8 630.1,1116.8 645.8,1085.7 653.7,1043.7 664.2,986.0 674.7,925.6 686.5,883.6 689.9,860.0 695.7,830.9 702.2,783.7 707.7,745.6 727.7,745.6" fill="none" stroke="#0a0a0a" stroke-width="3.5" stroke-linejoin="round" stroke-linecap="butt" />
<polyline points="184.7,1045.8 204.7,1045.8 213.4,1083.4 223.5,1095.5 227.6,1116.8 227.6,1136.8" fill="none" stroke="#0a0a0a" stroke-width="3.5" stroke-linejoin="round" stroke-linecap="butt" />
<polyline points="184.7,1091.5 204.7,1091.5 214.4,1102.6 217.4,1116.8 217.4,1136.8" fill="none" stroke="#0a0a0a" stroke-width="3.5" stroke-linejoin="round" stroke-linecap="butt" />
<polyline points="184.7,1101.2 204.7,1101.2 209.8,1107.4 211.0,1116.8 211.0,1136.8" fill="none" stroke="#0a0a0a" stroke-width="3.5" stroke-linejoin="round" stroke-linecap="butt" />
<circle cx="206.2" cy="1112.8" r="2.2" fill="#0a0a0a"/>
</g>
<rect x="145.5" y="587.2" width="588.8" height="589.6" fill="none" stroke="#7d7d7d" stroke-width="2.1"/>
<line x1="171.6" x2="171.6" y1="1176.8" y2="1187.0" stroke="#111" stroke-width="3.1"/>
<line x1="134.5" x2="145.5" y1="1149.9" y2="1149.9" stroke="#111" stroke-width="3.1"/>
<text x="171.0" y="1220.6" font-size="32.5" fill="#111" text-anchor="middle" >0.0</text>
<text x="126.2" y="1163.3" font-size="32.5" fill="#111" text-anchor="end" >0.0</text>
<line x1="339.8" x2="339.8" y1="1176.8" y2="1187.0" stroke="#111" stroke-width="3.1"/>
<line x1="134.5" x2="145.5" y1="981.9" y2="981.9" stroke="#111" stroke-width="3.1"/>
<text x="339.2" y="1220.6" font-size="32.5" fill="#111" text-anchor="middle" >0.5</text>
<text x="126.2" y="995.3" font-size="32.5" fill="#111" text-anchor="end" >0.5</text>
<line x1="508.0" x2="508.0" y1="1176.8" y2="1187.0" stroke="#111" stroke-width="3.1"/>
<line x1="134.5" x2="145.5" y1="813.8" y2="813.8" stroke="#111" stroke-width="3.1"/>
<text x="507.4" y="1220.6" font-size="32.5" fill="#111" text-anchor="middle" >1.0</text>
<text x="126.2" y="827.2" font-size="32.5" fill="#111" text-anchor="end" >1.0</text>
<line x1="676.2" x2="676.2" y1="1176.8" y2="1187.0" stroke="#111" stroke-width="3.1"/>
<line x1="134.5" x2="145.5" y1="645.8" y2="645.8" stroke="#111" stroke-width="3.1"/>
<text x="675.6" y="1220.6" font-size="32.5" fill="#111" text-anchor="middle" >1.5</text>
<text x="126.2" y="659.1" font-size="32.5" fill="#111" text-anchor="end" >1.5</text>
<text x="439.5" y="1268.6" font-size="41.5" fill="#000" text-anchor="middle" textLength="389.0" lengthAdjust="spacingAndGlyphs" >Channel Width (mm)</text>
<text transform="translate(66.2,882) rotate(-90)" text-anchor="middle" font-size="41.5" fill="#000" textLength="323" lengthAdjust="spacingAndGlyphs">Land Width (mm)</text>
<text x="791.0" y="672.0" font-size="40.5" fill="#000" text-anchor="start" textLength="55.5" lengthAdjust="spacingAndGlyphs" >VE</text>
<rect x="788.0" y="689.60" width="73.6" height="72.30" fill="#ef3b2c" stroke="#cfcfcf" stroke-width="2"/>
<text x="869.4" y="739.2" font-size="32.5" fill="#000" text-anchor="start" textLength="113.5" lengthAdjust="spacingAndGlyphs" >75-76%</text>
<rect x="788.0" y="761.90" width="73.6" height="72.30" fill="#fb6a4a" stroke="#cfcfcf" stroke-width="2"/>
<text x="869.4" y="811.4" font-size="32.5" fill="#000" text-anchor="start" textLength="113.5" lengthAdjust="spacingAndGlyphs" >76-77%</text>
<rect x="788.0" y="834.20" width="73.6" height="72.30" fill="#fc9272" stroke="#cfcfcf" stroke-width="2"/>
<text x="869.4" y="883.7" font-size="32.5" fill="#000" text-anchor="start" textLength="113.5" lengthAdjust="spacingAndGlyphs" >77-78%</text>
<rect x="788.0" y="906.50" width="73.6" height="72.30" fill="#fcbba1" stroke="#cfcfcf" stroke-width="2"/>
<text x="869.4" y="955.9" font-size="32.5" fill="#000" text-anchor="start" textLength="113.5" lengthAdjust="spacingAndGlyphs" >78-79%</text>
<rect x="788.0" y="978.80" width="73.6" height="72.30" fill="#fee0d2" stroke="#cfcfcf" stroke-width="2"/>
<text x="869.4" y="1028.2" font-size="32.5" fill="#000" text-anchor="start" textLength="113.5" lengthAdjust="spacingAndGlyphs" >79-80%</text>
<rect x="788.0" y="1051.10" width="73.6" height="72.30" fill="#fff5f0" stroke="#cfcfcf" stroke-width="2"/>
<text x="869.4" y="1100.4" font-size="32.5" fill="#000" text-anchor="start" textLength="113.5" lengthAdjust="spacingAndGlyphs" >80-81%</text>
</svg>
</body></html>
